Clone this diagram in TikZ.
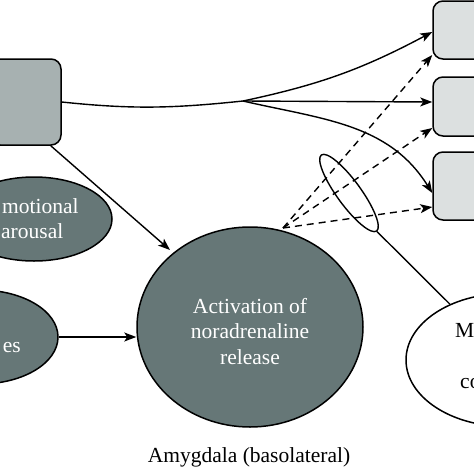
\documentclass[tikz,border=0pt]{standalone}
\usepackage{fontspec}
\setmainfont{Liberation Serif}
\usetikzlibrary{shapes.geometric,arrows.meta}
\definecolor{tlgray}{HTML}{A7B1B1}
\definecolor{darkteal}{HTML}{667777}
\definecolor{rtgray}{HTML}{DCE0E0}
\begin{document}
\begin{tikzpicture}[x=1pt,y=-1pt,
  txt/.style={font=\fontsize{21.5}{25.5}\selectfont,inner sep=0pt},
  wtxt/.style={txt,text=white},
  outl/.style={draw=black,line width=1.5pt},
  tlbox/.style={outl,rounded corners=10pt,fill=tlgray,minimum width=71pt,minimum height=86pt,inner sep=0pt},
  rtbox/.style={outl,rounded corners=10pt,fill=rtgray,minimum width=67pt,inner sep=0pt},
  darkell/.style={outl,ellipse,fill=darkteal,inner sep=0pt},
  conn/.style={line width=1.4pt},
  arr/.style={conn,-{Stealth[length=12pt,width=9pt,inset=3pt]}},
  darr/.style={arr,dash pattern=on 7pt off 5pt}]
\useasboundingbox (0,0) rectangle (474,474);
\clip (0,0) rectangle (474,474);

% boxes
\node[tlbox] (tl) at (25.5,102) {};
\node[rtbox,minimum height=58pt] (b1) at (466.5,30) {};
\node[rtbox,minimum height=59pt] (b2) at (466.5,106.5) {};
\node[rtbox,minimum height=68pt] (b3) at (466.5,186) {};

% ellipses
\node[darkell,minimum width=156pt,minimum height=84pt] (e1) at (34,219) {};
\node[darkell,minimum width=156pt,minimum height=94pt] (e2) at (-20,337) {};
\node[darkell,minimum width=226pt,minimum height=200pt] (act) at (250,327) {};
\node[outl,ellipse,fill=white,minimum width=200pt,minimum height=133pt,inner sep=0pt] (mem) at (506,360) {};
\node[draw=black,line width=1.4pt,ellipse,minimum width=94pt,minimum height=24pt,inner sep=0pt,rotate=-54] (sel) at (349,193) {};

% texts
\node[wtxt,anchor=base west] (t1a) at (2,213) {motional};
\node[wtxt,anchor=base west] (t1b) at (1,238.5) {arousal};
\node[wtxt,anchor=base east] (t2) at (21,352) {es};
\node[wtxt,align=center] (acttext) at (250,331.5) {Activation of\\noradrenaline\\release};
\node[txt,anchor=base west] (m1) at (455,337) {M};
\node[txt,anchor=base west] (m2) at (460,388) {co};
\node[txt,anchor=base] (lab) at (249,462) {Amygdala (basolateral)};

% connectors
\coordinate (j) at (243,101);
\coordinate (d0) at (283,228);
\draw[conn] (tl.east) to[out=-6,in=186] (j);
\draw[arr] (j) to[out=12,in=-152] ([yshift=-2pt]b1.west);
\draw[arr] (j) -- ([yshift=4.5pt]b2.west);
\draw[arr] (j) to[out=-13,in=122] ([yshift=-7pt]b3.west);
\draw[darr] (d0) -- ([yshift=-25pt]b1.west);
\draw[darr] (d0) -- ([yshift=-21.5pt]b2.west);
\draw[darr] (d0) -- ([yshift=-21pt]b3.west);
\draw[arr] ([xshift=-11pt]tl.south east) -- (170,250);
\draw[arr] (e2.east) -- (e2.east -| act.west);
\draw[conn] (sel.east) -- (mem);
\end{tikzpicture}
\end{document}
